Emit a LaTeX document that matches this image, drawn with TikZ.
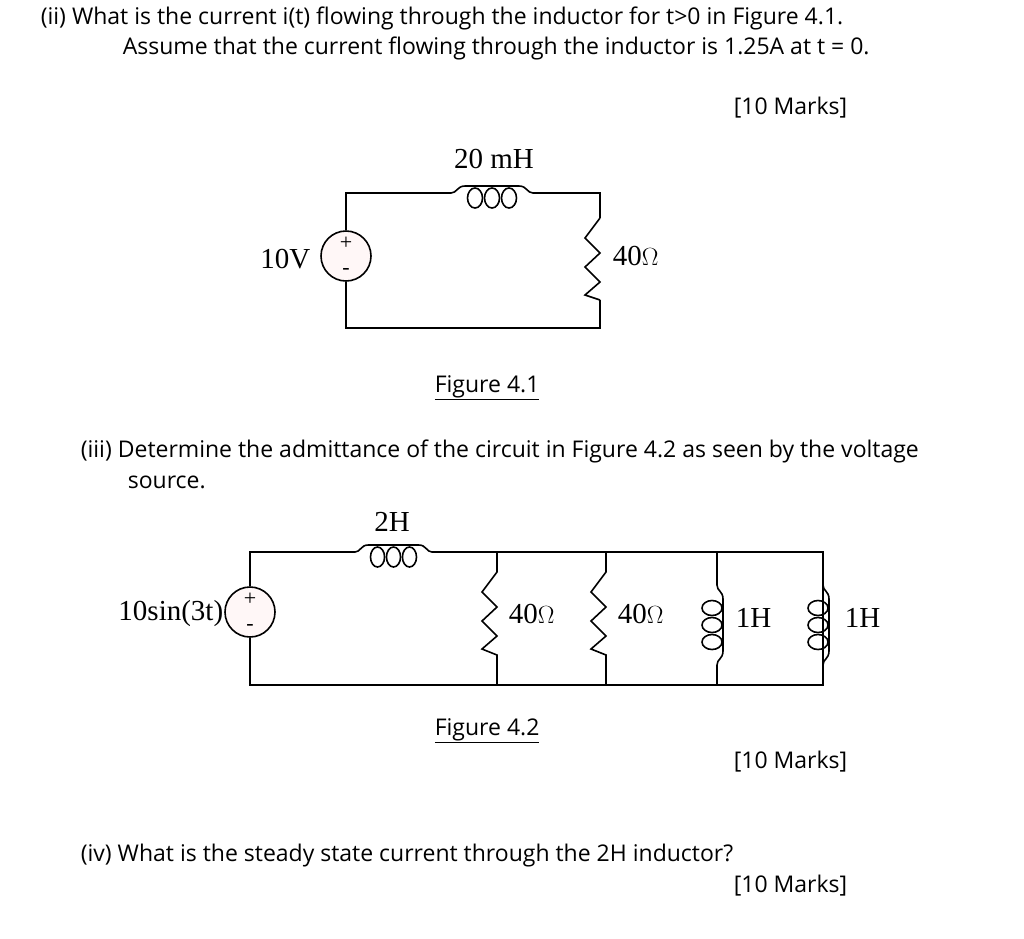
\documentclass[tikz,border=0pt]{standalone}
\usepackage{fontspec}
\setmainfont{Open Sans}
\newfontfamily\serifc{Liberation Serif}
\begin{document}
\begin{tikzpicture}[x=1pt,y=-1pt,line width=1.6pt,
 txt/.style={anchor=west,inner sep=0,font=\fontsize{23}{26}\selectfont},
 lab/.style={inner sep=0,font=\serifc\fontsize{29}{32}\selectfont},
 src/.style={circle,draw,fill=red!3,minimum size=50pt,inner sep=0},
 mk/.style={inner sep=0,font=\serifc\fontsize{22}{22}\selectfont},
 hind/.pic={\draw (0,0) .. controls (6,0) and (6,-7) .. (14,-7) -- (68,-7) .. controls (76,-7) and (76,0) .. (82,0);
   \foreach \c in {24,41,58}{\draw (\c,5) ellipse [x radius=7.5,y radius=10];}},
 vind/.pic={\draw (0,0) .. controls (0,6) and (6,6) .. (6,14) -- (6,66) .. controls (6,74) and (0,74) .. (0,80);
   \foreach \c in {23,40,57}{\draw (-5,\c) ellipse [x radius=10,y radius=7.5];}}]
\useasboundingbox (0,0) rectangle (1024,938);
% texts
\node[txt] (t1) at (40,18) {(ii) What is the current i(t) flowing through the inductor for t>0 in Figure 4.1.};
\node[txt] (t2) at (122,48) {Assume that the current flowing through the inductor is 1.25A at t = 0.};
\node[txt] (m1) at (733,108) {[10 Marks]};
\node[txt] (f1) at (434,388) {\underline{Figure 4.1}};
\node[txt] (t3) at (80,451) {(iii) Determine the admittance of the circuit in Figure 4.2 as seen by the voltage};
\node[txt] (t4) at (127,482) {source.};
\node[txt] (f2) at (434,731) {\underline{Figure 4.2}};
\node[txt] (m2) at (733,762) {[10 Marks]};
\node[txt] (t5) at (80,856) {(iv) What is the steady state current through the 2H inductor?};
\node[txt] (m3) at (733,886) {[10 Marks]};
% ---------- Figure 4.1
\node[src] (s1) at (346,256) {};
\node[mk] at (346,243) {+};
\node[mk] at (346,271) {-};
\node[lab,anchor=east] (l10) at (311,259) {10V};
\node[lab] (l20) at (494,159) {20 mH};
\node[lab,anchor=west] (l40) at (612,256) {40$\Omega$};
\coordinate (a1) at (346,193);
\coordinate (a2) at (451,193);
\coordinate (a3) at (533,193);
\coordinate (a4) at (600,193);
\coordinate (a5) at (600,218);
\coordinate (a6) at (600,300);
\coordinate (a7) at (600,328);
\coordinate (a8) at (346,328);
\draw (s1.north) -- (a1) -- (a2);
\pic at (a2) {hind};
\draw (a3) -- (a4) -- (a5);
\draw (a5) -- (585,238) -- (600,253) -- (585,267) -- (600,282) -- (585,295) -- (a6);
\draw (a6) -- (a7) -- (a8) -- (s1.south);
% ---------- Figure 4.2
\node[src] (s2) at (250,612) {};
\node[mk] at (250,599) {+};
\node[mk] at (250,627) {-};
\node[lab,anchor=east] (l10s) at (224,614) {10sin(3t)};
\node[lab] (l2h) at (392,522) {2H};
\node[lab,anchor=west] at (508,614) {40$\Omega$};
\node[lab,anchor=west] at (617,614) {40$\Omega$};
\node[lab,anchor=west] at (735,618) {1H};
\node[lab,anchor=west] at (844,618) {1H};
\coordinate (b1) at (250,552);
\coordinate (b2) at (355,552);
\coordinate (b3) at (432,552);
\coordinate (b4) at (823,552);
\coordinate (b5) at (823,685);
\coordinate (b6) at (250,685);
\draw (s2.north) -- (b1) -- (b2);
\pic[xscale=77/82] at (b2) {hind};
\draw (b3) -- (b4) -- (b5) -- (b6) -- (s2.south);
\foreach \xx in {497,606}{
 \draw (\xx,552) -- (\xx,572) -- ({\xx-15},592) -- (\xx,607) -- ({\xx-15},621) -- (\xx,636) -- ({\xx-15},649) -- (\xx,655) -- (\xx,685);
}
\foreach \xx in {717,823}{
 \draw (\xx,552) -- (\xx,585);
 \pic at (\xx,585) {vind};
 \draw (\xx,665) -- (\xx,685);
}
\end{tikzpicture}
\end{document}
